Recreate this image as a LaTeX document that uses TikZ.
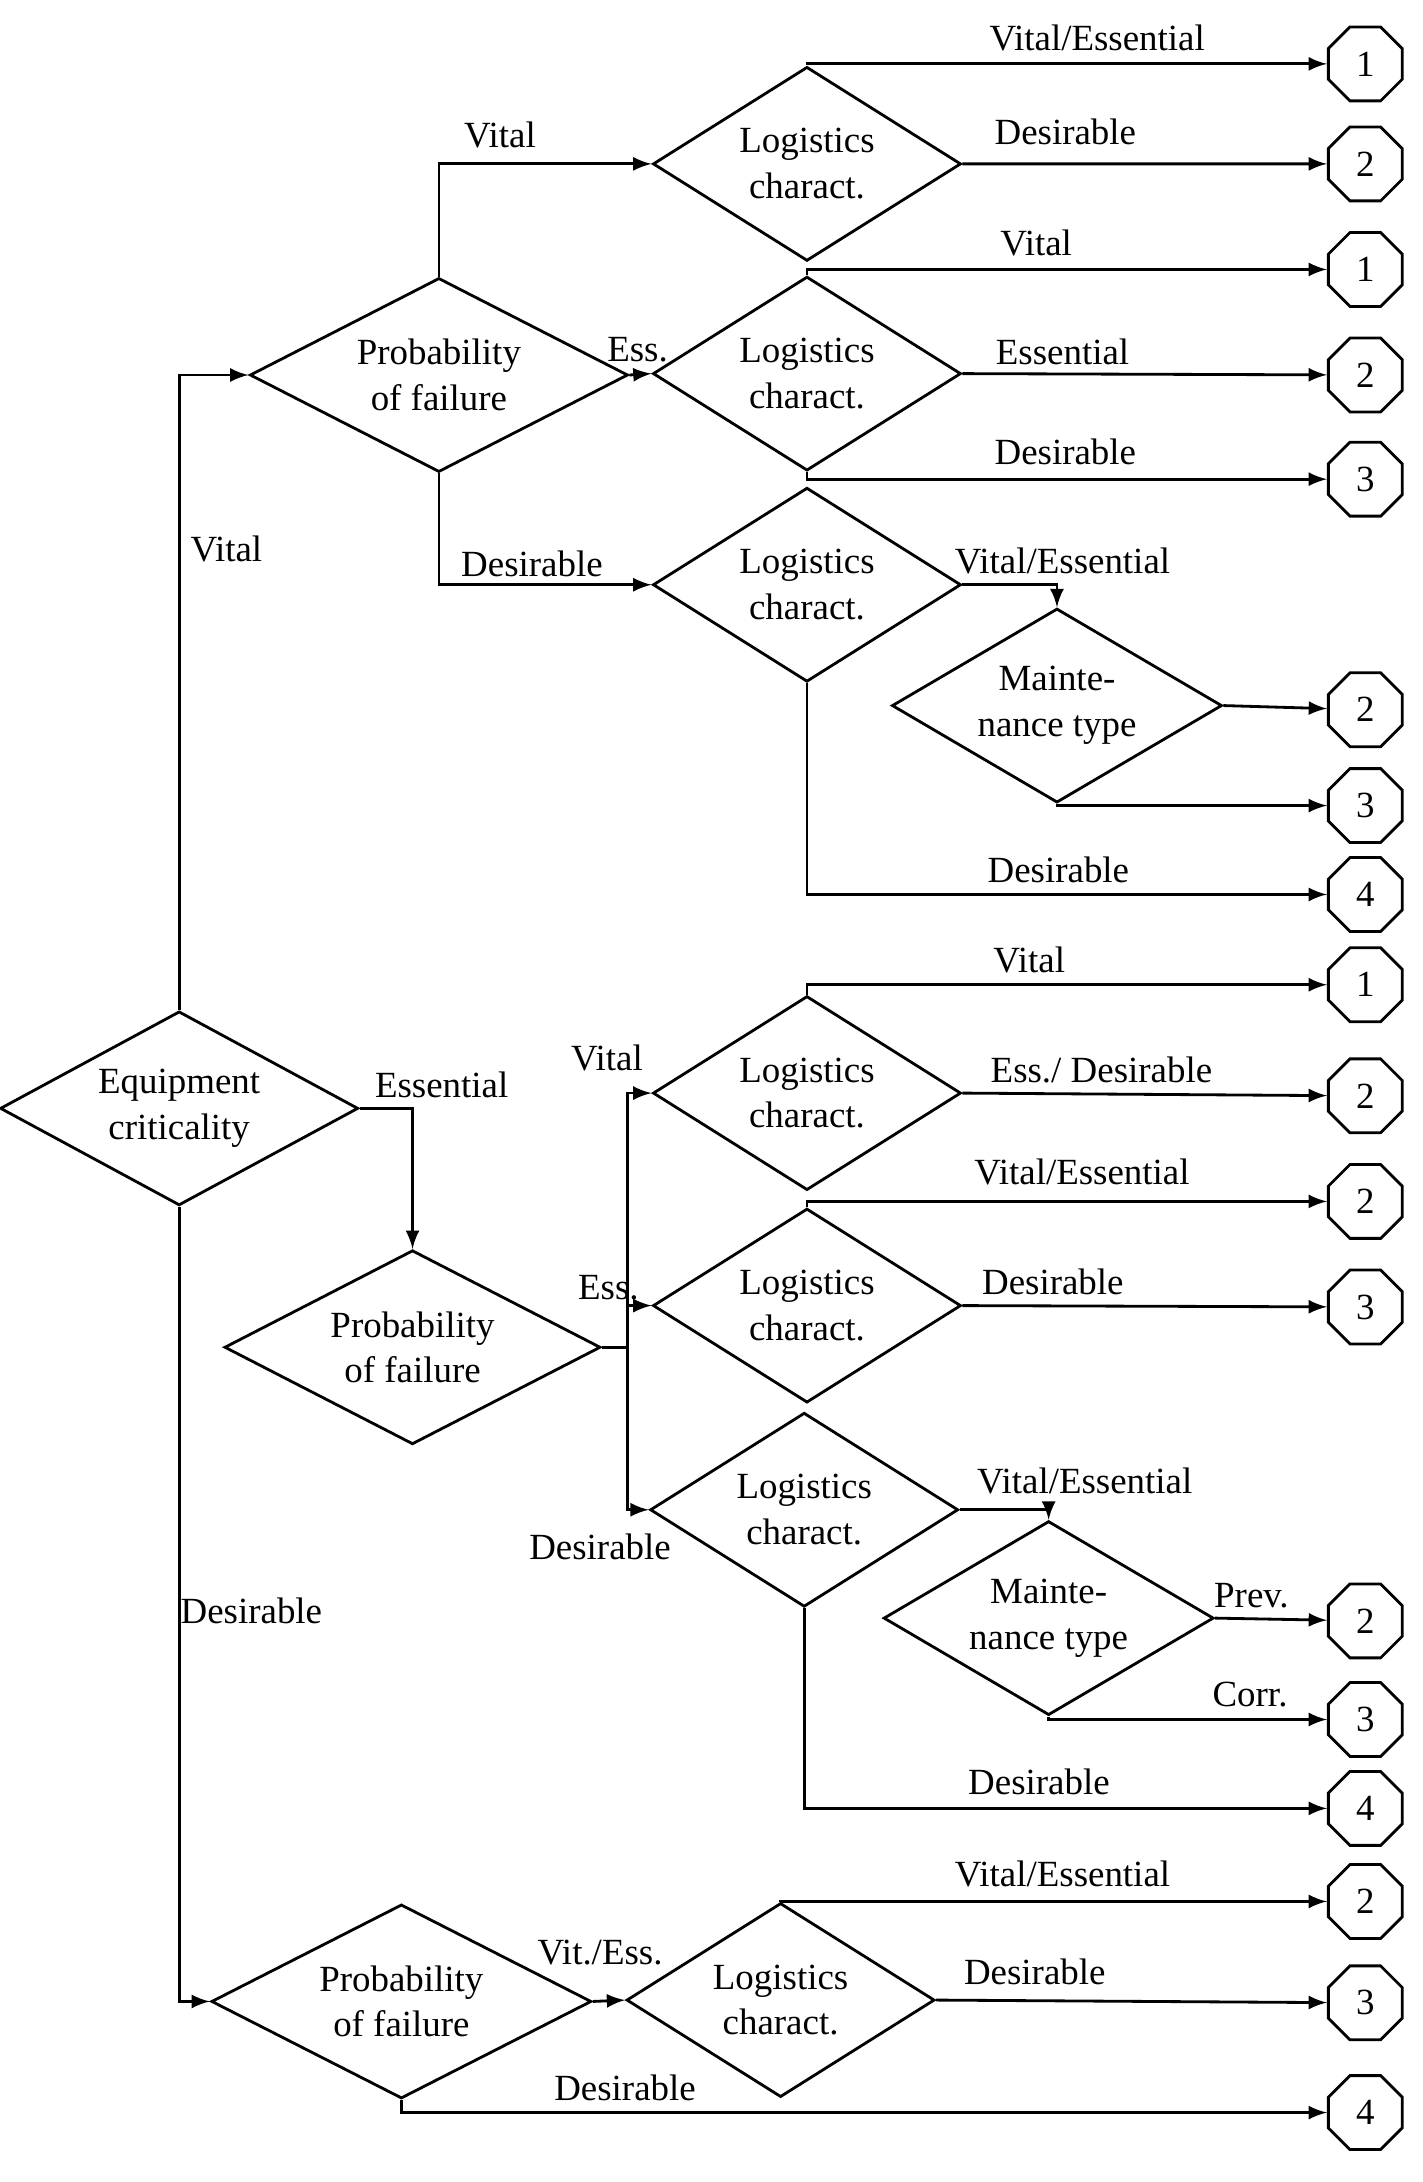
\documentclass[tikz,border=0pt]{standalone}
\usepackage{fontspec}
\setmainfont{Liberation Serif}
\usetikzlibrary{shapes,arrows}
\tikzstyle{decision} = [diamond, draw, thick, inner sep=0pt, align=center, aspect=1.7,
    minimum height=1.94cm, font=\fontsize{10.5}{13}\selectfont]
\tikzstyle{class} = [regular polygon, regular polygon sides=8, draw, thick,
    minimum size=0.8cm, inner sep=0pt, font=\fontsize{10.5}{13}\selectfont]
\tikzstyle{lbl} = [inner sep=1pt, font=\fontsize{10.5}{13}\selectfont]
\tikzstyle{line} = [draw, thick, -latex]

\begin{document}
\begin{tikzpicture}[x=0.01389cm, y=-0.01389cm]
			\useasboundingbox (0,0) rectangle (1024,1571);
			% Place nodes
			\node [decision, minimum width=3.58cm] (ec) at (129,798) {Equipment\\criticality};
			\node [decision, minimum width=3.78cm] (pf1) at (316,270) {Probability\\of failure};
			\node [decision, minimum width=3.76cm] (pf2) at (297,970) {Probability\\of failure};
			\node [decision, minimum width=3.8cm] (pf3) at (289,1441) {Probability\\of failure};
			\node [decision, minimum width=3.08cm] (lc1) at (581,118) {Logistics\\charact.};
			\node [decision, minimum width=3.08cm] (lc2) at (581,269) {Logistics\\charact.};
			\node [decision, minimum width=3.08cm] (lc3) at (581,421) {Logistics\\charact.};
			\node [decision, minimum width=3.08cm] (lc4) at (581,787) {Logistics\\charact.};
			\node [decision, minimum width=3.08cm] (lc5) at (581,940) {Logistics\\charact.};
			\node [decision, minimum width=3.08cm] (lc6) at (579,1087) {Logistics\\charact.};
			\node [decision, minimum width=3.08cm] (lc7) at (562,1440) {Logistics\\charact.};
			\node [decision, minimum width=3.3cm] (mt1) at (761,508) {Mainte-\\nance type};
			\node [decision, minimum width=3.3cm] (mt2) at (755,1165) {Mainte-\\nance type};
			\node [class] (o1) at (983,46) {1};
			\node [class] (o2) at (983,118) {2};
			\node [class] (o3) at (983,194) {1};
			\node [class] (o4) at (983,270) {2};
			\node [class] (o5) at (983,345) {3};
			\node [class] (o6) at (983,511) {2};
			\node [class] (o7) at (983,580) {3};
			\node [class] (o8) at (983,644) {4};
			\node [class] (o9) at (983,709) {1};
			\node [class] (o10) at (983,789) {2};
			\node [class] (o11) at (983,865) {2};
			\node [class] (o12) at (983,941) {3};
			\node [class] (o13) at (983,1167) {2};
			\node [class] (o14) at (983,1238) {3};
			\node [class] (o15) at (983,1302) {4};
			\node [class] (o16) at (983,1369) {2};
			\node [class] (o17) at (983,1442) {3};
			\node [class] (o18) at (983,1521) {4};
			\coordinate (split) at (452,970);
			% Draw edges
			\path [line] (ec.north) |- (pf1.west);
			\path [line] (ec.east) -| (pf2.north);
			\path [line] (ec.south) |- (pf3.west);
			\path [line] (pf1.north) |- (lc1.west);
			\path [line] (pf1.east) -- (lc2.west);
			\path [line] (pf1.south) |- (lc3.west);
			\path [line] (lc1.north) |- (o1);
			\path [line] (lc1.east) -- (o2);
			\path [line] (lc2.north) |- (o3);
			\path [line] (lc2.east) -- (o4);
			\path [line] (lc2.south) |- (o5);
			\path [line] (lc3.east) -| (mt1.north);
			\path [line] (mt1.east) -- (o6);
			\path [line] (mt1.south) |- (o7);
			\path [line] (lc3.south) |- (o8);
			\draw [thick] (pf2.east) -- (split);
			\path [line] (split) |- (lc4.west);
			\path [line] (split) |- (lc5.west);
			\path [line] (split) |- (lc6.west);
			\path [line] (lc4.north) |- (o9);
			\path [line] (lc4.east) -- (o10);
			\path [line] (lc5.north) |- (o11);
			\path [line] (lc5.east) -- (o12);
			\path [line] (lc6.east) -| (mt2.north);
			\path [line] (mt2.east) -- (o13);
			\path [line] (mt2.south) |- (o14);
			\path [line] (lc6.south) |- (o15);
			\path [line] (pf3.east) -- (lc7.west);
			\path [line] (lc7.north) |- (o16);
			\path [line] (lc7.east) -- (o17);
			\path [line] (pf3.south) |- (o18);
			% Edge labels
			\node [lbl] (l1) at (163,395) {Vital};
			\node [lbl] (l2) at (318,781) {Essential};
			\node [lbl] (l3) at (181,1160) {Desirable};
			\node [lbl] (l4) at (360,97) {Vital};
			\node [lbl] (l5) at (459,252) {Ess.};
			\node [lbl] (l6) at (383,406) {Desirable};
			\node [lbl] (l7) at (790,27) {Vital/Essential};
			\node [lbl] (l8) at (767,95) {Desirable};
			\node [lbl] (l9) at (746,175) {Vital};
			\node [lbl] (l10) at (765,253) {Essential};
			\node [lbl] (l11) at (767,325) {Desirable};
			\node [lbl] (l12) at (765,404) {Vital/Essential};
			\node [lbl] (l13) at (762,626) {Desirable};
			\node [lbl] (l14) at (437,762) {Vital};
			\node [lbl] (l15) at (438,927) {Ess.};
			\node [lbl] (l16) at (432,1114) {Desirable};
			\node [lbl] (l17) at (741,691) {Vital};
			\node [lbl] (l18) at (793,770) {Ess./ Desirable};
			\node [lbl] (l19) at (779,844) {Vital/Essential};
			\node [lbl] (l20) at (758,923) {Desirable};
			\node [lbl] (l21) at (781,1066) {Vital/Essential};
			\node [lbl] (l22) at (901,1149) {Prev.};
			\node [lbl] (l23) at (900,1220) {Corr.};
			\node [lbl] (l24) at (748,1283) {Desirable};
			\node [lbl] (l25) at (432,1406) {Vit./Ess.};
			\node [lbl] (l26) at (765,1349) {Vital/Essential};
			\node [lbl] (l27) at (745,1420) {Desirable};
			\node [lbl] (l28) at (450,1503) {Desirable};
	\end{tikzpicture}
\end{document}
